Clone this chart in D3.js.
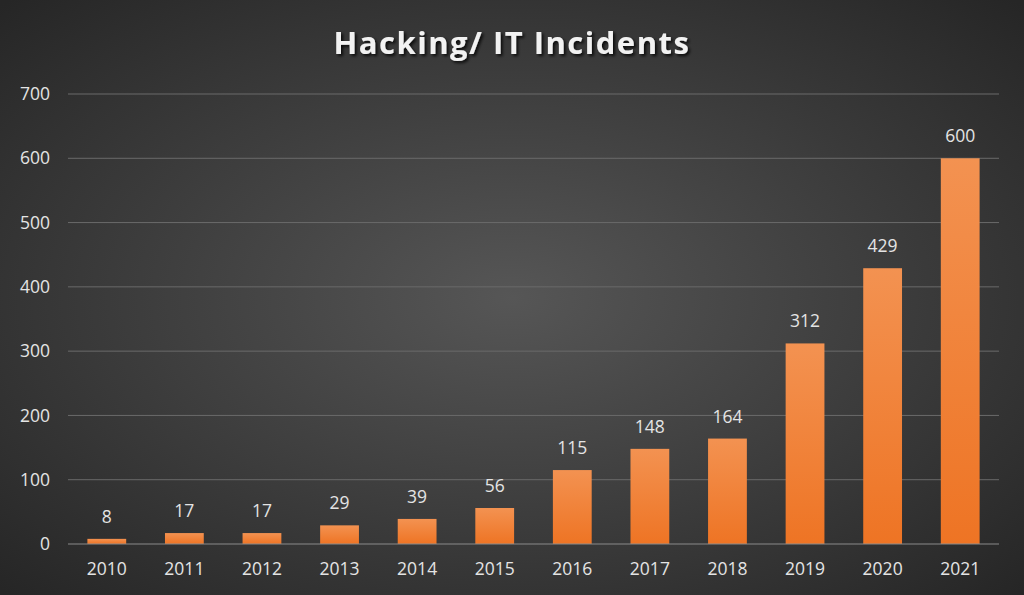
<!DOCTYPE html>
<html>
<head>
<meta charset="utf-8">
<script src="https://cdn.jsdelivr.net/npm/d3@7"></script>
<style>
  body { margin: 0; background: #333; }
  svg { display: block; font-family: "Open Sans", "Liberation Sans", sans-serif; }
</style>
</head>
<body>
<svg id="chart"></svg>
<script>
const YEARS = ["2010", "2011", "2012", "2013", "2014", "2015", "2016", "2017", "2018", "2019", "2020", "2021"];
const INCIDENTS = [8, 17, 17, 29, 39, 56, 115, 148, 164, 312, 429, 600];
const Y_TICKS = [0, 100, 200, 300, 400, 500, 600, 700];

const width = 1024, height = 595;
const margin = { top: 94, right: 25, bottom: 51, left: 68 };

const svg = d3.select("#chart").attr("width", width).attr("height", height);
const defs = svg.append("defs");

// Background: dark radial gradient
const bg = defs.append("radialGradient").attr("id", "bg").attr("cx", "50%").attr("cy", "50%").attr("r", "70%");
bg.append("stop").attr("offset", "0%").attr("stop-color", "#565656");
bg.append("stop").attr("offset", "100%").attr("stop-color", "#262626");

// Bar fill: light orange at top to deeper orange below
const barGrad = defs.append("linearGradient").attr("id", "bar").attr("x1", 0).attr("y1", 0).attr("x2", 0).attr("y2", 1);
barGrad.append("stop").attr("offset", "0%").attr("stop-color", "#f39251");
barGrad.append("stop").attr("offset", "100%").attr("stop-color", "#ee7424");

const shadow = defs.append("filter").attr("id", "shadow");
shadow.append("feDropShadow").attr("dx", 2).attr("dy", 2).attr("stdDeviation", 1.5).attr("flood-color", "#000").attr("flood-opacity", 0.8);

svg.append("rect").attr("width", width).attr("height", height).attr("fill", "url(#bg)");

const x = d3.scaleBand().domain(YEARS).range([margin.left, width - margin.right]).paddingInner(0.5).paddingOuter(0.25);
const y = d3.scaleLinear().domain([0, 700]).range([height - margin.bottom, margin.top]);

// Gridlines
svg.append("g")
  .selectAll("line")
  .data(Y_TICKS.slice(1))
  .join("line")
  .attr("x1", margin.left)
  .attr("x2", width - margin.right)
  .attr("y1", (d) => y(d))
  .attr("y2", (d) => y(d))
  .attr("stroke", "#6a6a6a")
  .attr("stroke-width", 1);

// Bars
svg.append("g")
  .selectAll("rect")
  .data(INCIDENTS)
  .join("rect")
  .attr("x", (d, i) => x(YEARS[i]))
  .attr("width", x.bandwidth())
  .attr("y", (d) => y(d))
  .attr("height", (d) => y(0) - y(d))
  .attr("fill", "url(#bar)");

// Value labels
svg.append("g")
  .selectAll("text")
  .data(INCIDENTS)
  .join("text")
  .attr("x", (d, i) => x(YEARS[i]) + x.bandwidth() / 2)
  .attr("y", (d) => y(d) - 16)
  .attr("text-anchor", "middle")
  .attr("fill", "#e4e4e4")
  .attr("font-size", 17.5)
  .text((d) => d);

// Baseline
svg.append("line")
  .attr("x1", margin.left).attr("x2", width - margin.right)
  .attr("y1", y(0)).attr("y2", y(0))
  .attr("stroke", "#8a8a8a");

// Axes
const xAxisG = svg.append("g")
  .attr("transform", `translate(0, ${y(0)})`)
  .call(d3.axisBottom(x).tickSize(0).tickPadding(19));
xAxisG.select(".domain").remove();
xAxisG.selectAll("text").attr("fill", "#e4e4e4").attr("font-size", 17.5).attr("font-family", "Open Sans, sans-serif");

const yAxisG = svg.append("g")
  .attr("transform", `translate(${margin.left - 18}, 0)`)
  .call(d3.axisLeft(y).tickValues(Y_TICKS).tickSize(0).tickPadding(0));
yAxisG.select(".domain").remove();
yAxisG.selectAll("text").attr("fill", "#e4e4e4").attr("font-size", 17.5).attr("font-family", "Open Sans, sans-serif");

// Title
svg.append("text")
  .attr("x", width / 2)
  .attr("y", 54)
  .attr("text-anchor", "middle")
  .attr("fill", "#f2f2f2")
  .attr("font-size", 31)
  .attr("font-weight", "bold")
  .attr("letter-spacing", 1.5)
  .attr("filter", "url(#shadow)")
  .text("Hacking/ IT Incidents");
</script>
</body>
</html>
